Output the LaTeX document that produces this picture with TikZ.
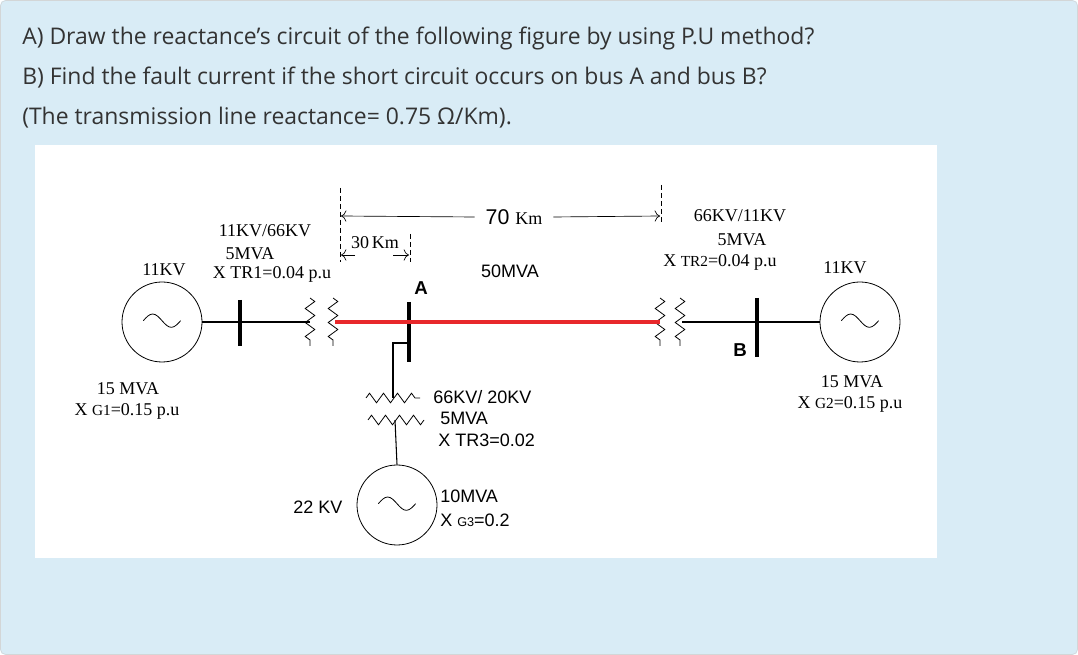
\documentclass[tikz,border=0pt]{standalone}
\usepackage{fontspec}
\setmainfont{Liberation Serif}
\newfontfamily\sansf{Liberation Sans}
\newfontfamily\headf{Open Sans}
\usetikzlibrary{decorations.pathmorphing,arrows.meta}
\definecolor{bgblue}{HTML}{D9ECF6}
\definecolor{txtgray}{HTML}{333333}
\definecolor{linered}{HTML}{E8282B}
\begin{document}
\begin{tikzpicture}[x=0.75pt,y=-0.75pt,
  gen/.style={draw,circle,minimum size=60pt,inner sep=0pt,line width=0.6pt,
    path picture={\draw[line width=0.6pt] ([xshift=-14pt,yshift=1pt]path picture bounding box.center)
      sin ++(7pt,5pt) cos ++(7pt,-5pt) sin ++(7pt,-5pt) cos ++(7pt,5pt);}},
  bus/.style={line width=2.6pt},
  wire/.style={line width=0.8pt},
  coil/.style={decorate,decoration={zigzag,amplitude=3.6pt,segment length=10.5pt},line width=0.6pt},
  dim/.style={line width=0.5pt,dash pattern=on 4pt off 2pt},
  arr/.style={line width=0.5pt,-{To[length=4pt]}},
  ser/.style={font=\fontsize{13.5}{15}\selectfont,inner sep=0pt},
  san/.style={font=\sansf\fontsize{13.5}{15}\selectfont,inner sep=0pt},
  head/.style={font=\headf\fontsize{17.2}{20}\selectfont,text=txtgray,anchor=west,inner sep=0pt}]
\useasboundingbox (0,0) rectangle (1078,655);
\fill[bgblue,rounded corners=4pt] (0,0) rectangle (1078,655);
\draw[white!80!bgblue!70!gray,rounded corners=4pt] (0.5,0.5) rectangle (1077.5,654.5);
\fill[white] (35,145) rectangle (937,558);
% question text
\node[head] (q1) at (22,38) {A) Draw the reactance’s circuit of the following figure by using P.U method?};
\node[head] (q2) at (22,78) {B) Find the fault current if the short circuit occurs on bus A and bus B?};
\node[head] (q3) at (22,118) {(The transmission line reactance= 0.75 Ω/Km).};
% generators
\node[gen] (g1) at (162,322) {};
\node[gen] (g2) at (860,322) {};
\node[gen] (g3) at (397,505) {};
% buses
\coordinate (b1t) at (240,300); \coordinate (b1b) at (240,346);
\coordinate (bAt) at (409,302); \coordinate (bAb) at (409,362);
\coordinate (bBt) at (757,298); \coordinate (bBb) at (757,357);
\draw[bus] (b1t) -- (b1b);
\draw[bus] (bAt) -- (bAb);
\draw[bus] (bBt) -- (bBb);
% transformer coils
\coordinate (t1a) at (310,298); \coordinate (t1b) at (310,346);
\coordinate (t1c) at (333,298); \coordinate (t1d) at (333,346);
\coordinate (t2a) at (660,298); \coordinate (t2b) at (660,346);
\coordinate (t2c) at (680,298); \coordinate (t2d) at (680,346);
\coordinate (t3a) at (366,398); \coordinate (t3b) at (420,398);
\coordinate (t3c) at (368,420); \coordinate (t3d) at (424,420);
\draw[coil] (t1a) -- (t1b); \draw[coil] (t1c) -- (t1d);
\draw[coil] (t2a) -- (t2b); \draw[coil] (t2c) -- (t2d);
\draw[coil] (t3a) -- (t3b); \draw[coil] (t3c) -- (t3d);
% connections
\coordinate (t1in) at (310,322); \coordinate (t1out) at (335,322);
\coordinate (t2in) at (660,322); \coordinate (t2out) at (682,322);
\coordinate (tap) at (409,343); \coordinate (t3top) at (393,398);
\coordinate (t3bot) at (395,420);
\draw[wire] (g1.east) -- (t1in);
\draw[linered,line width=2.6pt] (t1out) -- (t2in);
\draw[wire] (t2out) -- (g2.west);
\draw[wire] (tap) -| (t3top);
\draw[wire] (t3bot) -- (g3.north);
% dimension lines
\coordinate (d1t) at (340,188); \coordinate (d1b) at (340,262);
\coordinate (d2t) at (410,234); \coordinate (d2b) at (410,262);
\coordinate (d3t) at (661,185); \coordinate (d3b) at (661,224);
\draw[dim] (d1t) -- (d1b); \draw[dim] (d2t) -- (d2b); \draw[dim] (d3t) -- (d3b);
\node[font=\sansf\fontsize{16}{18}\selectfont,inner sep=0pt] (l70) at (514,217) {70 {\fontsize{13.5}{15}\rmfamily Km}};
\coordinate (a70l) at (341,216); \coordinate (a70r) at (660,216);
\draw[arr] ([xshift=-8pt]l70.west) -- (a70l);
\draw[arr] ([xshift=8pt]l70.east) -- (a70r);
\node[ser] (l30) at (375,243) {30\,Km};
\coordinate (a30l) at (341,255); \coordinate (a30r) at (409,255);
\coordinate (a30m1) at (355,255); \coordinate (a30m2) at (393,255);
\draw[arr] (a30m1) -- (a30l); \draw[arr] (a30m2) -- (a30r);
% labels
\node[ser] (lt1a) at (265,231) {11KV/66KV};
\node[ser] (lt1b) at (250,254) {5MVA};
\node[ser] (lt1c) at (272,274) {X TR1=0.04 p.u};
\node[ser] (lg1v) at (164,270) {11KV};
\node[ser] (lg1a) at (128,389) {15 MVA};
\node[ser] (lg1b) at (127,411) {X {\fontsize{11.5}{13}\selectfont G1}=0.15 p.u};
\node[san] (l50) at (510,271) {50MVA};
\node[san,font=\sansf\bfseries\fontsize{14}{16}\selectfont] (lA) at (421,288) {A};
\node[san,font=\sansf\bfseries\fontsize{14}{16}\selectfont] (lB) at (740,350) {B};
\node[ser] (lt2a) at (740,216) {66KV/11KV};
\node[ser] (lt2b) at (742,240) {5MVA};
\node[ser] (lt2c) at (720,262) {X {\fontsize{11.5}{13}\selectfont TR2}=0.04 p.u};
\node[ser] (lg2v) at (845,268) {11KV};
\node[ser] (lg2a) at (852,382) {15 MVA};
\node[ser] (lg2b) at (850,404) {X {\fontsize{11.5}{13}\selectfont G2}=0.15 p.u};
\node[san,anchor=west] (lt3a) at (433,397) {66KV/ 20KV};
\node[san,anchor=west] (lt3b) at (440,418) {5MVA};
\node[san,anchor=west] (lt3c) at (438,440) {X TR3=0.02};
\node[san] (lg3v) at (318,507) {22 KV};
\node[san,anchor=west] (lg3a) at (440,496) {10MVA};
\node[san,anchor=west] (lg3b) at (440,520) {X {\fontsize{9.5}{11}\selectfont G3}=0.2};
\end{tikzpicture}
\end{document}
